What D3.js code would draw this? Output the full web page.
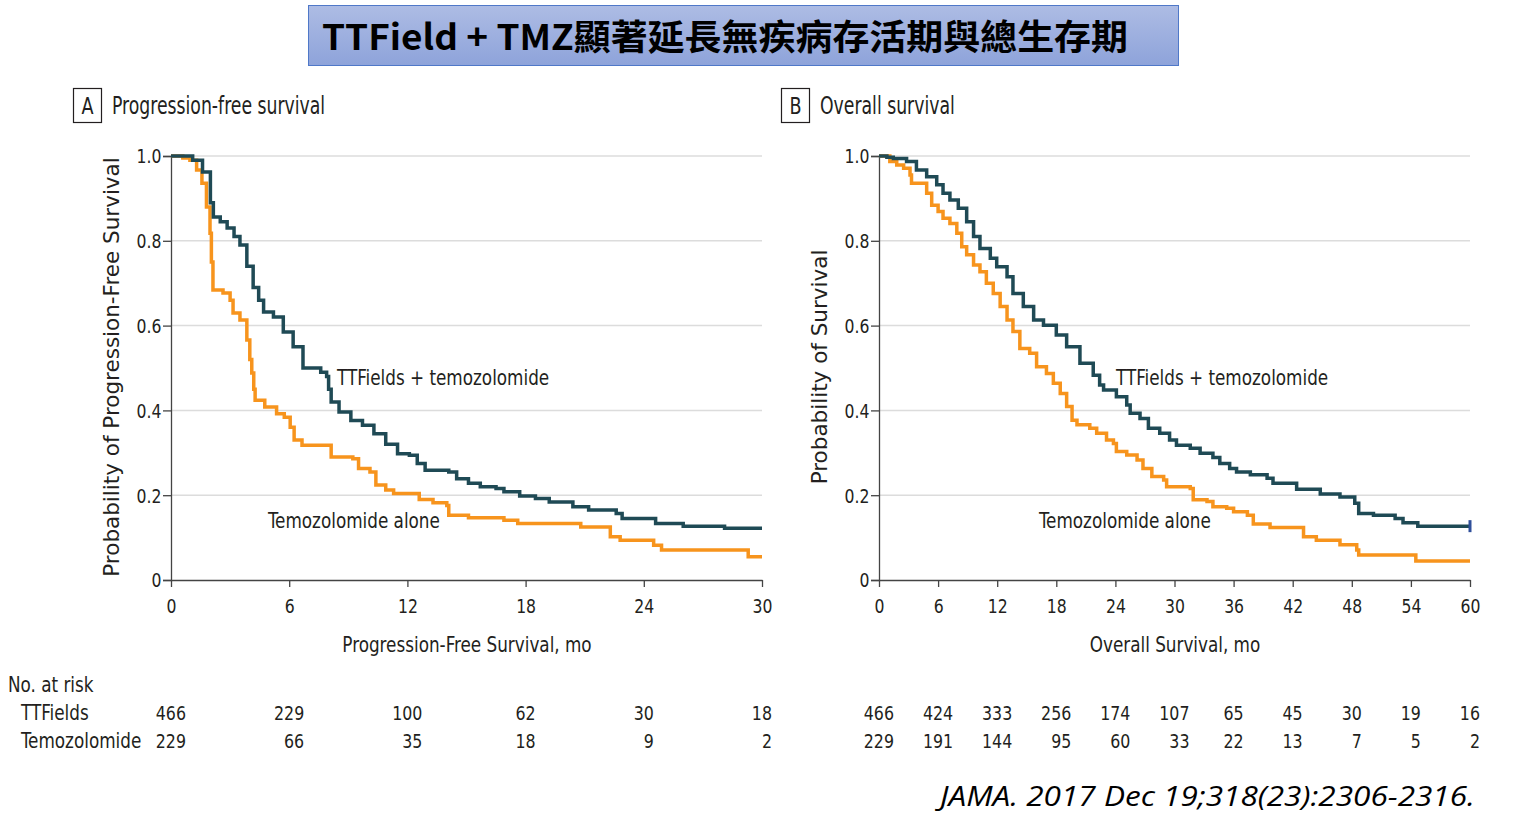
<!DOCTYPE html>
<html>
<head>
<meta charset="utf-8">
<script src="https://cdn.jsdelivr.net/npm/d3@7"></script>
<style>
  body { margin: 0; background: #fff; }
  svg { display: block; }
  .cond { font-family: "DejaVu Sans Condensed", "DejaVu Sans", sans-serif; fill: #231f20; }
</style>
</head>
<body>
<div id="chart"></div>
<script>
// PFS, panel A (months, survival probability)
var pfsTtfTime = [0, 1.1, 1.6, 2.0, 2.15, 2.5, 2.85, 3.2, 3.5, 3.85, 4.17, 4.45, 4.7, 5.2, 5.7, 6.2, 6.7, 7.6, 7.9, 8.0, 8.13, 8.53, 9.13, 9.72, 10.3, 10.9, 11.5, 12.1, 12.5, 12.9, 14.1, 14.5, 15.1, 15.7, 16.5, 16.9, 17.7, 18.5, 19.2, 20.4, 21.2, 22.6, 22.9, 24.6, 26.0, 28.1, 30];
var pfsTtfSurv = [1.0, 0.99, 0.962, 0.89, 0.856, 0.845, 0.83, 0.81, 0.79, 0.74, 0.69, 0.66, 0.632, 0.62, 0.585, 0.55, 0.50, 0.49, 0.48, 0.45, 0.42, 0.396, 0.376, 0.365, 0.345, 0.32, 0.298, 0.294, 0.275, 0.259, 0.255, 0.239, 0.228, 0.22, 0.216, 0.208, 0.198, 0.192, 0.184, 0.173, 0.165, 0.157, 0.145, 0.133, 0.127, 0.122, 0.122];
var pfsTmzTime = [0, 0.6, 0.96, 1.3, 1.57, 1.8, 1.98, 2.05, 2.13, 2.64, 3.0, 3.15, 3.5, 3.85, 4.0, 4.1, 4.2, 4.27, 4.76, 5.36, 5.75, 6.05, 6.25, 6.65, 8.13, 9.23, 9.52, 10.1, 10.4, 10.9, 11.3, 12.6, 13.3, 14.0, 14.1, 15.1, 16.9, 17.6, 20.8, 22.3, 22.8, 24.5, 24.9, 29.3, 30];
var pfsTmzSurv = [1.0, 0.995, 0.99, 0.967, 0.936, 0.88, 0.818, 0.75, 0.684, 0.677, 0.66, 0.63, 0.613, 0.566, 0.52, 0.488, 0.45, 0.424, 0.408, 0.392, 0.384, 0.36, 0.33, 0.318, 0.29, 0.286, 0.263, 0.255, 0.224, 0.212, 0.204, 0.19, 0.182, 0.176, 0.153, 0.147, 0.141, 0.133, 0.125, 0.102, 0.094, 0.082, 0.071, 0.055, 0.055];

// OS, panel B
var osTtfTime = [0, 0.8, 1.45, 2.8, 3.8, 4.84, 5.86, 6.5, 7.2, 8.05, 8.9, 9.6, 10.25, 11.3, 11.95, 13.0, 13.6, 14.65, 15.7, 16.7, 18.0, 19.05, 20.4, 21.75, 22.4, 22.8, 24.1, 25.15, 25.5, 26.5, 27.35, 28.5, 29.5, 30.2, 31.6, 32.6, 33.9, 34.6, 35.6, 36.3, 37.7, 39.4, 40.0, 42.4, 44.8, 46.8, 48.3, 48.7, 50.2, 52.4, 53.2, 54.7, 60];
var osTtfSurv = [1.0, 0.997, 0.994, 0.987, 0.967, 0.951, 0.932, 0.912, 0.896, 0.877, 0.845, 0.81, 0.782, 0.759, 0.739, 0.715, 0.676, 0.645, 0.613, 0.601, 0.578, 0.55, 0.511, 0.483, 0.46, 0.448, 0.432, 0.413, 0.393, 0.381, 0.358, 0.346, 0.33, 0.318, 0.311, 0.299, 0.289, 0.275, 0.263, 0.255, 0.248, 0.24, 0.228, 0.214, 0.203, 0.196, 0.181, 0.157, 0.153, 0.145, 0.135, 0.127, 0.127];
var osTmzTime = [0, 1.1, 1.8, 2.5, 3.15, 3.3, 4.84, 5.35, 6.0, 6.5, 7.2, 7.9, 8.4, 8.9, 9.6, 10.25, 10.9, 11.6, 12.3, 13.0, 13.6, 14.3, 15.3, 16.0, 17.0, 17.7, 18.4, 19.05, 19.6, 20.1, 21.4, 22.1, 23.1, 23.8, 24.1, 25.15, 26.2, 26.8, 27.7, 28.9, 29.2, 31.6, 31.9, 33.3, 33.9, 35.3, 36.0, 37.4, 38.0, 39.7, 43.1, 44.4, 46.8, 48.5, 48.7, 54.5, 60];
var osTmzSurv = [1.0, 0.987, 0.979, 0.971, 0.955, 0.936, 0.912, 0.884, 0.869, 0.853, 0.841, 0.818, 0.786, 0.767, 0.743, 0.727, 0.70, 0.676, 0.645, 0.613, 0.586, 0.546, 0.535, 0.503, 0.487, 0.464, 0.44, 0.409, 0.377, 0.366, 0.358, 0.346, 0.33, 0.322, 0.303, 0.295, 0.283, 0.263, 0.244, 0.236, 0.22, 0.216, 0.189, 0.185, 0.173, 0.169, 0.161, 0.153, 0.132, 0.124, 0.102, 0.094, 0.083, 0.071, 0.059, 0.045, 0.045];

// number at risk
var pfsRiskTimes = [0, 6, 12, 18, 24, 30];
var pfsRiskTtf = [466, 229, 100, 62, 30, 18];
var pfsRiskTmz = [229, 66, 35, 18, 9, 2];
var osRiskTimes = [0, 6, 12, 18, 24, 30, 36, 42, 48, 54, 60];
var osRiskTtf = [466, 424, 333, 256, 174, 107, 65, 45, 30, 19, 16];
var osRiskTmz = [229, 191, 144, 95, 60, 33, 22, 13, 7, 5, 2];

var yTicks = [0, 0.2, 0.4, 0.6, 0.8, 1.0];

var W = 1527, H = 836;
var teal = "#1f4a55", orange = "#f7941d";
var squeeze = 0.85;   // narrow the sans glyphs to look like the condensed journal font

var svg = d3.select("#chart").append("svg")
    .attr("width", W)
    .attr("height", H);

// condensed text helper
function ctext(x, y, size, str, anchor, sx) {
  return svg.append("text").attr("class", "cond")
      .attr("transform", "translate(" + x + "," + y + ") scale(" + (sx || squeeze) + ",1)")
      .attr("font-size", size)
      .attr("text-anchor", anchor || "start")
      .text(str);
}

// title banner
var defs = svg.append("defs");
var grad = defs.append("linearGradient")
    .attr("id", "titleGrad")
    .attr("x1", 0).attr("y1", 0).attr("x2", 0).attr("y2", 1);
grad.append("stop").attr("offset", "0%").attr("stop-color", "#adbce4");
grad.append("stop").attr("offset", "100%").attr("stop-color", "#8ea3da");

svg.append("rect")
    .attr("x", 308.5).attr("y", 5.5)
    .attr("width", 870).attr("height", 60)
    .attr("fill", "url(#titleGrad)")
    .attr("stroke", "#4f78c8")
    .attr("stroke-width", 1);

svg.append("text")
    .attr("x", 322)
    .attr("y", 50)
    .attr("font-family", "'Noto Sans CJK TC', 'Noto Sans CJK SC', sans-serif")
    .attr("font-weight", 700)
    .attr("font-size", 35)
    .attr("textLength", 806)
    .attr("lengthAdjust", "spacingAndGlyphs")
    .attr("fill", "#000")
    .text("TTField + TMZ顯著延長無疾病存活期與總生存期");

function drawPanel(p) {
  var x = d3.scaleLinear().domain([0, p.maxT]).range([p.left, p.left + 591]);
  var y = d3.scaleLinear().domain([0, 1]).range([580, 156]);

  // panel letter box and heading
  svg.append("rect")
      .attr("x", p.left - 97.5).attr("y", 88.5)
      .attr("width", 28).attr("height", 34)
      .attr("fill", "none").attr("stroke", "#231f20").attr("stroke-width", 1.2);
  ctext(p.left - 83.5, 114, 23, p.letter, "middle");
  ctext(p.left - 59, 114, 24, p.heading, "start", 0.8);

  // grid lines
  svg.append("g").selectAll("line")
    .data(yTicks.slice(1))
    .enter().append("line")
      .attr("x1", p.left).attr("x2", p.left + 591)
      .attr("y1", function(d) { return y(d); })
      .attr("y2", function(d) { return y(d); })
      .attr("stroke", "#dcdcdc")
      .attr("stroke-width", 1.5);

  // Y axis
  var gy = svg.append("g")
      .attr("transform", "translate(" + p.left + ",0)")
      .call(d3.axisLeft(y).tickValues(yTicks).tickSize(8).tickPadding(3)
        .tickFormat(function(d) { return d === 0 ? "0" : d.toFixed(1); }));
  gy.select(".domain").attr("stroke", "#444").attr("stroke-width", 1.3);
  gy.selectAll(".tick line").attr("stroke", "#444").attr("stroke-width", 1.3);
  gy.selectAll("text").attr("class", "cond").attr("font-size", 20).attr("dy", "0.34em")
      .attr("transform", "scale(0.87,1)");

  // X axis
  var gx = svg.append("g")
      .attr("transform", "translate(0,580)")
      .call(d3.axisBottom(x).tickValues(p.riskTimes).tickSize(7).tickPadding(12).tickSizeOuter(0));
  gx.select(".domain").attr("stroke", "#444").attr("stroke-width", 1.3);
  gx.selectAll(".tick line").attr("stroke", "#444").attr("stroke-width", 1.3);
  gx.selectAll("text").attr("class", "cond").attr("font-size", 20)
      .attr("transform", "scale(0.87,1)");

  // axis titles
  ctext(p.left + 296, 652, 22, p.xTitle, "middle");

  svg.append("text")
      .attr("transform", "translate(" + (p.left - 52) + ",367) rotate(-90)")
      .attr("text-anchor", "middle")
      .attr("font-family", "'DejaVu Sans', Verdana, sans-serif")
      .attr("font-size", 21.5)
      .attr("fill", "#231f20")
      .text(p.yTitle);

  // curves
  var line = d3.line()
      .curve(d3.curveStepAfter)
      .x(function(d) { return x(d[0]); })
      .y(function(d) { return y(d[1]); });

  svg.append("path")
      .datum(d3.zip(p.tmzTime, p.tmzSurv))
      .attr("fill", "none")
      .attr("stroke", orange)
      .attr("stroke-width", 3.5)
      .attr("d", line);

  svg.append("path")
      .datum(d3.zip(p.ttfTime, p.ttfSurv))
      .attr("fill", "none")
      .attr("stroke", teal)
      .attr("stroke-width", 3.5)
      .attr("d", line);

  // curve labels
  ctext(p.ttfLabelX, 385, 22, "TTFields + temozolomide");
  ctext(p.tmzLabelX, 528, 22, "Temozolomide alone");

  // number at risk, right aligned under the top row's centred number
  function rightEdge(i) {
    return x(p.riskTimes[i]) + String(p.riskTtf[i]).length * 5;
  }
  p.riskTtf.forEach(function(d, i) { ctext(rightEdge(i), 720, 20, d, "end", 0.88); });
  p.riskTmz.forEach(function(d, i) { ctext(rightEdge(i), 748, 20, d, "end", 0.88); });

  return { x: x, y: y };
}

drawPanel({
  left: 171, maxT: 30, letter: "A", heading: "Progression-free survival",
  xTitle: "Progression-Free Survival, mo",
  yTitle: "Probability of Progression-Free Survival",
  ttfTime: pfsTtfTime, ttfSurv: pfsTtfSurv,
  tmzTime: pfsTmzTime, tmzSurv: pfsTmzSurv,
  riskTimes: pfsRiskTimes, riskTtf: pfsRiskTtf, riskTmz: pfsRiskTmz,
  ttfLabelX: 337, tmzLabelX: 268
});

var pb = drawPanel({
  left: 879, maxT: 60, letter: "B", heading: "Overall survival",
  xTitle: "Overall Survival, mo",
  yTitle: "Probability of Survival",
  ttfTime: osTtfTime, ttfSurv: osTtfSurv,
  tmzTime: osTmzTime, tmzSurv: osTmzSurv,
  riskTimes: osRiskTimes, riskTtf: osRiskTtf, riskTmz: osRiskTmz,
  ttfLabelX: 1116, tmzLabelX: 1039
});

// censor mark at end of TTFields OS curve
svg.append("line")
    .attr("x1", pb.x(60)).attr("x2", pb.x(60))
    .attr("y1", pb.y(osTtfSurv[osTtfSurv.length - 1]) - 6)
    .attr("y2", pb.y(osTtfSurv[osTtfSurv.length - 1]) + 6)
    .attr("stroke", "#2f4f9a")
    .attr("stroke-width", 3);

// risk table row labels
ctext(8, 692, 22, "No. at risk");
ctext(21, 720, 22, "TTFields");
ctext(21, 748, 22, "Temozolomide");

// citation
svg.append("text")
    .attr("x", 1475).attr("y", 806)
    .attr("text-anchor", "end")
    .attr("font-family", "'Open Sans', 'Liberation Sans', sans-serif")
    .attr("font-style", "italic")
    .attr("font-size", 28)
    .attr("textLength", 535)
    .attr("lengthAdjust", "spacingAndGlyphs")
    .attr("fill", "#000")
    .text("JAMA. 2017 Dec 19;318(23):2306-2316.");
</script>
</body>
</html>
